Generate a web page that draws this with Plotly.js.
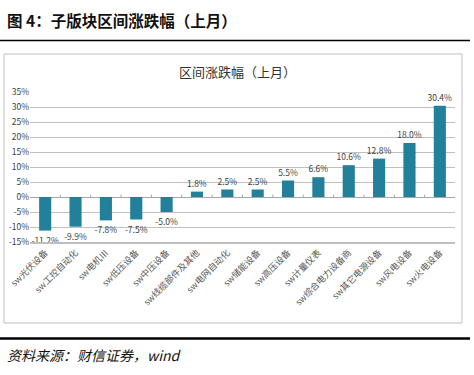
<!DOCTYPE html>
<html>
<head>
<meta charset="utf-8">
<script src="https://cdn.plot.ly/plotly-3.0.1.min.js"></script>
<style>
html,body{margin:0;padding:0;background:#fff;}
#chart{width:474px;height:375px;}
</style>
</head>
<body>
<div id="chart"></div>
<script>
const categories = ["sw光伏设备","sw工控自动化","sw电机Ⅲ","sw低压设备","sw中压设备","sw线缆部件及其他","sw电网自动化","sw储能设备","sw高压设备","sw计量仪表","sw综合电力设备商","sw其它电源设备","sw风电设备","sw火电设备"];
const values = [-11.2, -9.9, -7.8, -7.5, -5.0, 1.8, 2.5, 2.5, 5.5, 6.6, 10.6, 12.8, 18.0, 30.4];
const valueLabels = values.map(v => v.toFixed(1) + "%");
const yTickVals = [-15, -10, -5, 0, 5, 10, 15, 20, 25, 30, 35];
const yTickText = yTickVals.map(v => v + "%");

const fontCJK = '"Noto Sans CJK SC", "Noto Sans", sans-serif';

const trace = {
  type: 'bar',
  x: categories,
  y: values,
  marker: {color: '#23809a'},
  width: 0.4,
  text: valueLabels,
  textposition: 'outside',
  constraintext: 'none',
  cliponaxis: false,
  textfont: {family: fontCJK, size: 8.5, color: '#404040'},
  hoverinfo: 'none'
};

// small tick marks on the zero line between categories
const tickShapes = categories.slice(0, -1).map((c, i) => ({
  type: 'line', xref: 'x', yref: 'y',
  x0: i + 0.5, x1: i + 0.5, y0: 0, y1: 0.8,
  line: {color: '#a6a6a6', width: 1}
}));

const layout = {
  width: 474, height: 375,
  margin: {l: 30, r: 19, t: 92, b: 133},
  paper_bgcolor: '#fff', plot_bgcolor: '#fff',
  showlegend: false,
  bargap: 0.6,
  xaxis: {
    type: 'category',
    tickangle: -45,
    tickfont: {family: fontCJK, size: 9, color: '#595959'},
    showgrid: false,
    showline: true, linecolor: '#bfbfbf', linewidth: 2,
    ticks: '', zeroline: false,
    fixedrange: true
  },
  yaxis: {
    range: [-15, 35],
    tickvals: yTickVals, ticktext: yTickText,
    tickfont: {family: fontCJK, size: 8.5, color: '#404040'},
    showgrid: true, gridcolor: '#c0c0c0', gridwidth: 1,
    zeroline: true, zerolinecolor: '#a6a6a6', zerolinewidth: 1,
    ticks: '', ticklen: 0,
    fixedrange: true
  },
  shapes: [
    {type: 'line', xref: 'paper', yref: 'paper', x0: -30/425, x1: 440/425, y0: (242-40.5)/150, y1: (242-40.5)/150, line: {color: '#000', width: 1.5}},
    {type: 'rect', xref: 'paper', yref: 'paper', x0: (4-30)/425, x1: (462-30)/425, y0: (242-323)/150, y1: (242-54)/150, line: {color: '#bfbfbf', width: 1}},
    {type: 'line', xref: 'paper', yref: 'paper', x0: -30/425, x1: 440/425, y0: (242-338.5)/150, y1: (242-338.5)/150, line: {color: '#000', width: 2.5}}
  ].concat(tickShapes),
  annotations: [
    {text: '<b>图 4：子版块区间涨跌幅（上月）</b>', xref: 'paper', yref: 'paper', x: -25/425, y: (242-20)/150, xanchor: 'left', yanchor: 'middle', showarrow: false, font: {family: '"Noto Sans CJK SC", sans-serif', size: 15.5, color: '#111'}},
    {text: '区间涨跌幅（上月）', xref: 'paper', yref: 'paper', x: (237-30)/425, y: (242-71)/150, xanchor: 'center', yanchor: 'middle', showarrow: false, font: {family: fontCJK, size: 13, color: '#333'}},
    {text: '<i>资料来源：财信证券，wind</i>', xref: 'paper', yref: 'paper', x: -25/425, y: (242-355)/150, xanchor: 'left', yanchor: 'middle', showarrow: false, font: {family: '"Noto Sans CJK SC", "Liberation Serif", serif', size: 14, color: '#111'}}
  ]
};

Plotly.newPlot('chart', [trace], layout, {displayModeBar: false, staticPlot: true});
</script>
</body>
</html>
